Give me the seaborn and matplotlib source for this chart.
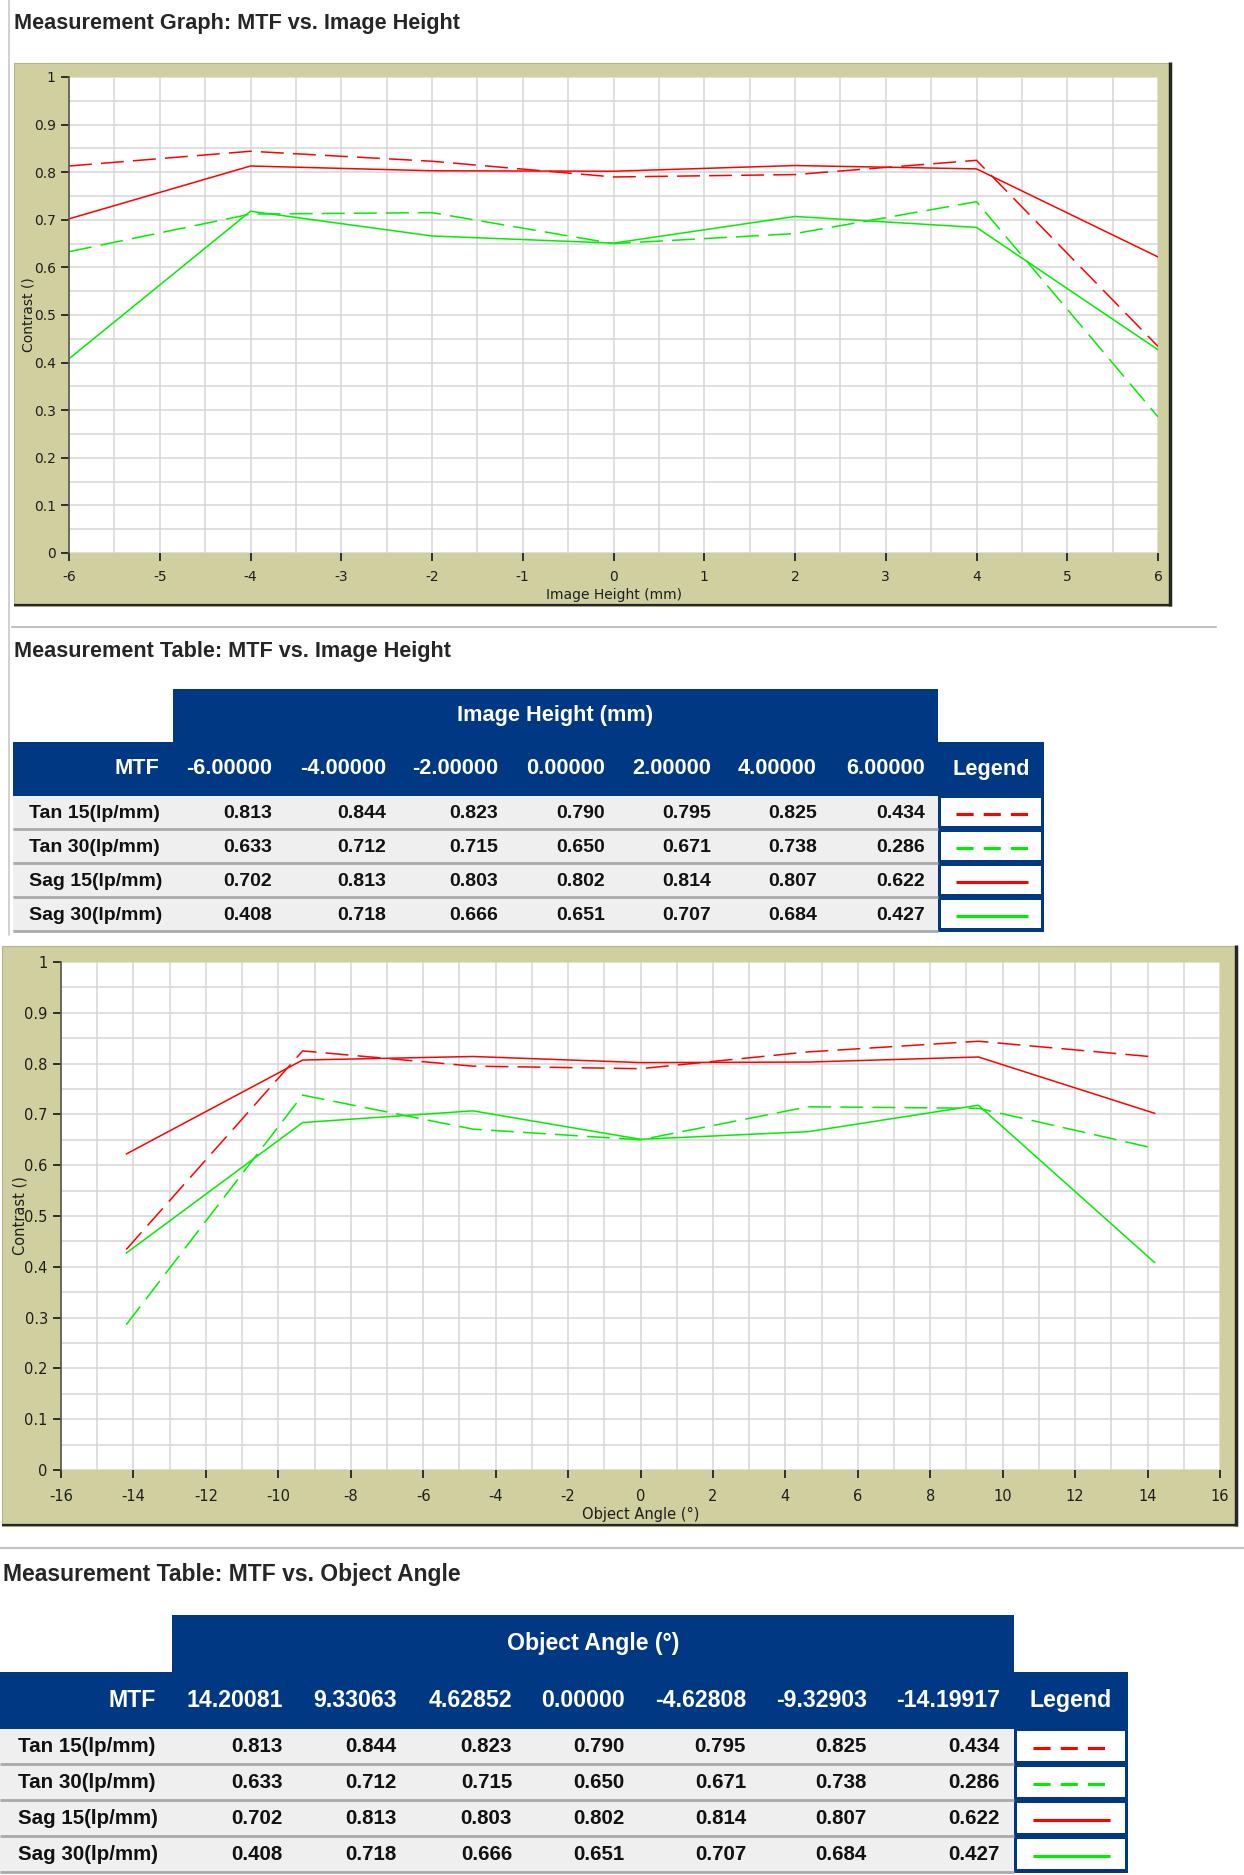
import numpy as np
import pandas as pd
import seaborn as sns
import matplotlib
matplotlib.use("Agg")
import matplotlib.pyplot as plt
from matplotlib.patches import Rectangle
from matplotlib.ticker import MultipleLocator, FuncFormatter

# measured data (same values in both charts / tables)
image_height = [-6.0, -4.0, -2.0, 0.0, 2.0, 4.0, 6.0]
object_angle = [14.20081, 9.33063, 4.62852, 0.0, -4.62808, -9.32903, -14.19917]
series = ["Tan 15(lp/mm)", "Tan 30(lp/mm)", "Sag 15(lp/mm)", "Sag 30(lp/mm)"]
tan15 = [0.813, 0.844, 0.823, 0.790, 0.795, 0.825, 0.434]
tan30 = [0.633, 0.712, 0.715, 0.650, 0.671, 0.738, 0.286]
sag15 = [0.702, 0.813, 0.803, 0.802, 0.814, 0.807, 0.622]
sag30 = [0.408, 0.718, 0.666, 0.651, 0.707, 0.684, 0.427]
values = [tan15, tan30, sag15, sag30]

RED = "#ff0000"
GREEN = "#00ee00"
TAN = "#cfcfa0"
BLUE = "#003884"
colors = {series[0]: RED, series[1]: GREEN, series[2]: RED, series[3]: GREEN}
dash = {series[0]: (15, 6), series[1]: (15, 6), series[2]: "", series[3]: ""}
ARIAL = ["Liberation Sans", "DejaVu Sans"]

sns.set_style("white")
plt.rcParams["font.family"] = ["DejaVu Sans"]

W, H = 1244, 1875
fig = plt.figure(figsize=(W / 100, H / 100), dpi=100)
fig.patch.set_facecolor("white")


def box(l, t, r, b):
    return [l / W, 1 - b / H, (r - l) / W, (b - t) / H]


# background axes in pixel coords for panels, tables, titles
bg = fig.add_axes([0, 0, 1, 1], zorder=0)
bg.set_xlim(0, W)
bg.set_ylim(H, 0)
bg.axis("off")


def long_df(xs):
    rows = []
    for name, vals in zip(series, values):
        for xv, v in zip(xs, vals):
            rows.append({"series": name, "x": xv, "contrast": v})
    return pd.DataFrame(rows)


def panel(l, t, r, b):
    bg.add_patch(Rectangle((l, t), r - l, b - t, facecolor=TAN,
                           edgecolor="#b4b48a", linewidth=0.8))
    bg.plot([r - 1.5, r - 1.5], [t - 1, b], color="#262626", lw=2.5, solid_capstyle="butt")
    bg.plot([l, r], [b - 1, b - 1], color="#262626", lw=1.6, solid_capstyle="butt")


def chart(pos, xs, xlim, major, minor, fs, xlabel, ylab_x, xpad):
    ax = fig.add_axes(box(*pos), zorder=2)
    ax.set_facecolor("white")
    sns.lineplot(data=long_df(xs), x="x", y="contrast", hue="series", style="series",
                 palette=colors, dashes=dash, linewidth=1.1, legend=False,
                 errorbar=None, ax=ax)
    ax.set_xlim(*xlim)
    ax.set_ylim(0, 1)
    ax.xaxis.set_major_locator(MultipleLocator(major))
    ax.xaxis.set_minor_locator(MultipleLocator(minor))
    ax.yaxis.set_major_locator(MultipleLocator(0.1))
    ax.yaxis.set_minor_locator(MultipleLocator(0.05))
    ax.yaxis.set_major_formatter(FuncFormatter(lambda v, p: f"{v:g}"))
    ax.xaxis.set_major_formatter(FuncFormatter(lambda v, p: f"{v:g}"))
    ax.grid(True, which="both", color="#d6d6d6", linewidth=1.1)
    ax.set_axisbelow(True)
    for s in ["top", "right", "bottom"]:
        ax.spines[s].set_visible(False)
    ax.spines["left"].set_color("#555555")
    ax.spines["left"].set_linewidth(1.2)
    ax.tick_params(which="major", bottom=True, left=True, length=5.5, width=1.3,
                   color="#222222", labelsize=fs, labelcolor="#1e1e1e", pad=4)
    ax.tick_params(which="minor", bottom=False, left=False, length=0)
    ax.tick_params(axis="x", pad=xpad)
    ax.set_xlabel(xlabel, fontsize=fs, labelpad=2.5, color="#1e1e1e")
    ax.set_ylabel("Contrast ()", fontsize=fs, color="#1e1e1e")
    ax.yaxis.set_label_coords(ylab_x, 0.5)
    return ax


def table(title, title_xy, title_fs, head_fs, body_fs, top_box, hdr_box, row_edges,
          row_x1, legend_x, sample_x, mtf_right, col_right, label_x, head_text, xs):
    bg.text(title_xy[0], title_xy[1], title, fontsize=title_fs, fontweight="bold",
            family=ARIAL, ha="left", va="center")
    l, t, r, b = top_box
    bg.add_patch(Rectangle((l, t), r - l, b - t, facecolor=BLUE, edgecolor="none"))
    bg.text((l + r) / 2, (t + b) / 2, head_text, color="white", fontsize=head_fs,
            fontweight="bold", family=ARIAL, ha="center", va="center")
    l, t, r, b = hdr_box
    bg.add_patch(Rectangle((l, t), r - l, b - t, facecolor=BLUE, edgecolor="none"))
    yc = (t + b) / 2
    hkw = dict(color="white", fontsize=head_fs, fontweight="bold", family=ARIAL, va="center")
    bg.text(mtf_right, yc, "MTF", ha="right", **hkw)
    for xr, xv in zip(col_right, xs):
        bg.text(xr, yc, f"{xv:.5f}", ha="right", **hkw)
    bg.text(sum(legend_x) / 2, yc, "Legend", ha="center", **hkw)

    bg.add_patch(Rectangle((legend_x[0], row_edges[0]), legend_x[1] - legend_x[0],
                           row_edges[-1] - row_edges[0], facecolor=BLUE, edgecolor="none"))
    bkw = dict(color="#111111", fontsize=body_fs, fontweight="bold", family=ARIAL, va="center")
    for i, (name, vals) in enumerate(zip(series, values)):
        y0, y1 = row_edges[i], row_edges[i + 1]
        ym = (y0 + y1) / 2
        bg.add_patch(Rectangle((l, y0), row_x1 - l, y1 - y0, facecolor="#efefef", edgecolor="none"))
        bg.plot([l, row_x1], [y1 - 1, y1 - 1], color="#a9a9a9", lw=2, solid_capstyle="butt")
        bg.text(label_x, ym, name, ha="left", **bkw)
        for xr, v in zip(col_right, vals):
            bg.text(xr, ym, f"{v:.3f}", ha="right", **bkw)
        bg.add_patch(Rectangle((legend_x[0] + 3, y0 + 2), legend_x[1] - legend_x[0] - 6,
                               y1 - y0 - 6, facecolor="white", edgecolor="none"))
        style = dict(dashes=(5.6, 3.3)) if name.startswith("Tan") else {}
        bg.plot(sample_x, [ym + 1, ym + 1], color=colors[name], lw=2.2,
                solid_capstyle="butt", dash_capstyle="butt", **style)


# page decorations
bg.plot([9, 9], [0, 935], color="#c8c8c8", lw=1.2)
bg.plot([12, 1216], [627, 627], color="#c0c0c0", lw=1.5)
bg.plot([0, W], [1548, 1548], color="#c0c0c0", lw=1.5)

# ---- chart 1: MTF vs image height
bg.text(14, 24, "Measurement Graph: MTF vs. Image Height", fontsize=15.6,
        fontweight="bold", family=ARIAL, ha="left", va="center")
panel(14, 63, 1171, 606)
chart((69, 77, 1158, 553), image_height, (-6, 6), 1, 0.5, 10.0,
      "Image Height (mm)", -0.0305, 7.0)

# ---- table 1
table("Measurement Table: MTF vs. Image Height", (14, 652), 15.6, 15.7, 14.0,
      (173, 689, 938, 742), (13, 742, 1044, 796), [796, 830, 864, 898, 932],
      938, (938, 1044), [956, 1028], 159,
      [272, 386, 498, 605, 711, 817, 925], 29, "Image Height (mm)", image_height)

# ---- chart 2: MTF vs object angle
panel(2, 946, 1237, 1526)
chart((61, 962, 1220, 1470), object_angle, (-16, 16), 2, 1, 10.5,
      "Object Angle (°)", -0.0290, 8.0)

# ---- table 2
table("Measurement Table: MTF vs. Object Angle", (3, 1575), 16.5, 16.7, 14.8,
      (172, 1615, 1014, 1672), (0, 1672, 1128, 1729), [1729, 1765, 1801, 1837, 1873],
      1014, (1014, 1128), [1033, 1110], 156,
      [283, 397, 512, 625, 746, 867, 1000], 18, "Object Angle (°)", object_angle)

fig.savefig("out.png", dpi=100, facecolor="white")
